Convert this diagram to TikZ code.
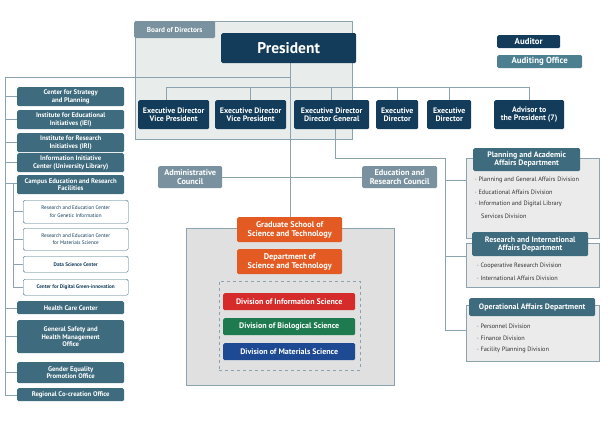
\documentclass[tikz,border=0pt]{standalone}
\usepackage{fontspec}
\setmainfont{PT Sans}
\definecolor{navy}{HTML}{123C5A}
\definecolor{teal}{HTML}{3E6B7D}
\definecolor{tealb}{HTML}{4C7F90}
\definecolor{gcouncil}{HTML}{7A929F}
\definecolor{lnc}{HTML}{8AA3AE}
\definecolor{boardfill}{HTML}{E8EDEB}
\definecolor{orangeb}{HTML}{E35B22}
\definecolor{redb}{HTML}{D52B2B}
\definecolor{greenb}{HTML}{1E7B4F}
\definecolor{blueb}{HTML}{1D4A93}
\begin{document}
\begin{tikzpicture}[x=1pt,y=-1pt,
 box/.style={rounded corners=1.5pt,text=white,font=\bfseries\fontsize{7.9}{8.2}\selectfont,align=center,inner sep=0pt},
 lbox/.style={box,fill=teal,font=\bfseries\fontsize{6.7}{7.6}\selectfont},
 sbox/.style={rounded corners=1.5pt,draw=teal,fill=white,text=navy,font=\fontsize{5.2}{7.5}\selectfont,align=center,inner sep=0pt},
 ln/.style={draw=lnc,line width=0.8pt},
 item/.style={anchor=west,font=\fontsize{6.3}{7}\selectfont,text=black!80,inner sep=0pt}]
\useasboundingbox (0,0) rectangle (611,423);
% board
\node[fill=boardfill,draw=lnc,minimum width=217,minimum height=118,anchor=north west,inner sep=0] (board) at (135,21) {};
\node[box,fill=gcouncil,minimum width=81,minimum height=17,anchor=north west,font=\bfseries\fontsize{7.2}{8}\selectfont] (bod) at (134,21) {Board of Directors};
% lines
\draw[ln] (5,77) -- (290,77);
\draw[ln] (5,77) -- (5,395);
\draw[ln] (290,63) -- (290,218);
\draw[ln] (166,100) -- (166,87) -- (529,87) -- (529,100);
\foreach \x in {250,331,397,449} \draw[ln] (\x,87) -- (\x,100);
\draw[ln] (222,177) -- (362,177);
\draw[ln] (335,129) -- (335,158) -- (445,158) -- (445,330);
\draw[ln] (445,180) -- (466,180);
\draw[ln] (445,256) -- (466,256);
\draw[ln] (445,330) -- (466,330);
\draw[ln] (13,183) -- (13,287);
\foreach \y in {96,119,142,162,183,308,336,372,395} \draw[ln] (5,\y) -- (17,\y);
\foreach \y in {211,239,264,287} \draw[ln] (13,\y) -- (23,\y);
% president
\node[box,fill=navy,minimum width=135,minimum height=30,anchor=north west,font=\bfseries\fontsize{15.5}{16}\selectfont] (pres) at (221,33) {President};
\node[box,fill=navy,minimum width=63,minimum height=13,anchor=north west,font=\bfseries\fontsize{8.8}{9}\selectfont] (aud) at (497,35) {Auditor};
\node[box,fill=tealb,minimum width=85,minimum height=13,anchor=north west,font=\bfseries\fontsize{8.8}{9}\selectfont] (audo) at (497,55) {Auditing Office};
% execs
\node[box,fill=navy,minimum width=71,minimum height=29,anchor=north west] (e1) at (138,100) {Executive Director\\Vice President};
\node[box,fill=navy,minimum width=71,minimum height=29,anchor=north west] (e2) at (215,100) {Executive Director\\Vice President};
\node[box,fill=navy,minimum width=75,minimum height=29,anchor=north west] (e3) at (294,100) {Executive Director\\Director General};
\node[box,fill=navy,minimum width=42,minimum height=29,anchor=north west] (e4) at (376,100) {Executive\\Director};
\node[box,fill=navy,minimum width=44,minimum height=29,anchor=north west] (e5) at (427,100) {Executive\\Director};
\node[box,fill=navy,minimum width=70,minimum height=29,anchor=north west] (adv) at (494,100) {Advisor to\\the President (7)};
% councils
\node[box,fill=gcouncil,minimum width=64,minimum height=22,anchor=north west,font=\bfseries\fontsize{8.3}{8.6}\selectfont] (adm) at (158,166) {Administrative\\Council};
\node[box,fill=gcouncil,minimum width=75,minimum height=22,anchor=north west,font=\bfseries\fontsize{8.3}{8.6}\selectfont] (edu) at (362,166) {Education and\\Research Council};
% departments
\node[fill=black!8,draw=lnc,minimum width=133,minimum height=80,anchor=north west,inner sep=0] (pbox) at (466,158) {};
\node[box,fill=teal,minimum width=107,minimum height=23,anchor=north west] (plan) at (473,148) {Planning and Academic\\Affairs Department};
\node[item] at (475,180) {· Planning and General Affairs Division};
\node[item] at (475,192) {· Educational Affairs Division};
\node[item] at (475,204) {· Information and Digital Library};
\node[item] at (481,216) {Services Division};
\node[fill=black!8,draw=lnc,minimum width=133,minimum height=44,anchor=north west,inner sep=0] (rbox) at (466,243) {};
\node[box,fill=teal,minimum width=116,minimum height=24,anchor=north west] (res) at (472,232) {Research and International\\Affairs Department};
\node[item] at (477,266) {· Cooperative Research Division};
\node[item] at (477,278) {· International Affairs Division};
\node[fill=black!8,draw=lnc,minimum width=133,minimum height=56,anchor=north west,inner sep=0] (obox) at (466,305) {};
\node[box,fill=teal,minimum width=126,minimum height=18,anchor=north west] (ops) at (469,298) {Operational Affairs Department};
\node[item] at (477,326) {· Personnel Division};
\node[item] at (477,338) {· Finance Division};
\node[item] at (477,350) {· Facility Planning Division};
% left
\node[lbox,minimum width=107,minimum height=19,anchor=north west] (c1) at (17,87) {Center for Strategy\\and Planning};
\node[lbox,minimum width=107,minimum height=19,anchor=north west] (c2) at (17,110) {Institute for Educational\\Initiatives (IEI)};
\node[lbox,minimum width=107,minimum height=19,anchor=north west] (c3) at (17,133) {Institute for Research\\Initiatives (IRI)};
\node[lbox,minimum width=107,minimum height=19,anchor=north west] (c4) at (17,153) {Information Initiative\\Center (University Library)};
\node[lbox,minimum width=107,minimum height=19,anchor=north west] (c5) at (17,175) {Campus Education and Research\\Facilities};
\node[sbox,minimum width=105,minimum height=23,anchor=north west] (s1) at (23,200) {Research and Education Center\\for Genetic Information};
\node[sbox,minimum width=105,minimum height=22,anchor=north west] (s2) at (23,228) {Research and Education Center\\for Materials Science};
\node[sbox,minimum width=105,minimum height=16,anchor=north west,font=\bfseries\fontsize{5.2}{7}\selectfont] (s3) at (23,256) {Data Science Center};
\node[sbox,minimum width=105,minimum height=16,anchor=north west,font=\bfseries\fontsize{5.2}{7}\selectfont] (s4) at (23,279) {Center for Digital Green-innovation};
\node[lbox,minimum width=107,minimum height=13,anchor=north west] (c6) at (17,301) {Health Care Center};
\node[lbox,minimum width=107,minimum height=33,anchor=north west] (c7) at (17,320) {General Safety and\\Health Management\\Office};
\node[lbox,minimum width=107,minimum height=21,anchor=north west] (c8) at (17,362) {Gender Equality\\Promotion Office};
\node[lbox,minimum width=107,minimum height=13,anchor=north west] (c9) at (17,388) {Regional Co-creation Office};
% center
\node[fill=black!12,draw=lnc,minimum width=208,minimum height=157,anchor=north west,inner sep=0] (cbox) at (186,228) {};
\node[box,fill=orangeb,minimum width=105,minimum height=25,anchor=north west,font=\bfseries\fontsize{8.3}{9}\selectfont] (gs) at (237,217) {Graduate School of\\Science and Technology};
\node[box,fill=orangeb,minimum width=105,minimum height=25,anchor=north west,font=\bfseries\fontsize{8.3}{9}\selectfont] (dept) at (237,249) {Department of\\Science and Technology};
\node[draw=lnc,dashed,minimum width=141,minimum height=89,anchor=north west,inner sep=0] (dash) at (219,281) {};
\node[box,fill=redb,minimum width=132,minimum height=17,anchor=north west,font=\bfseries\fontsize{8}{9}\selectfont] (d1) at (223,293) {Division of Information Science};
\node[box,fill=greenb,minimum width=132,minimum height=17,anchor=north west,font=\bfseries\fontsize{8}{9}\selectfont] (d2) at (223,318) {Division of Biological Science};
\node[box,fill=blueb,minimum width=132,minimum height=17,anchor=north west,font=\bfseries\fontsize{8}{9}\selectfont] (d3) at (223,343) {Division of Materials Science};
\end{tikzpicture}
\end{document}
